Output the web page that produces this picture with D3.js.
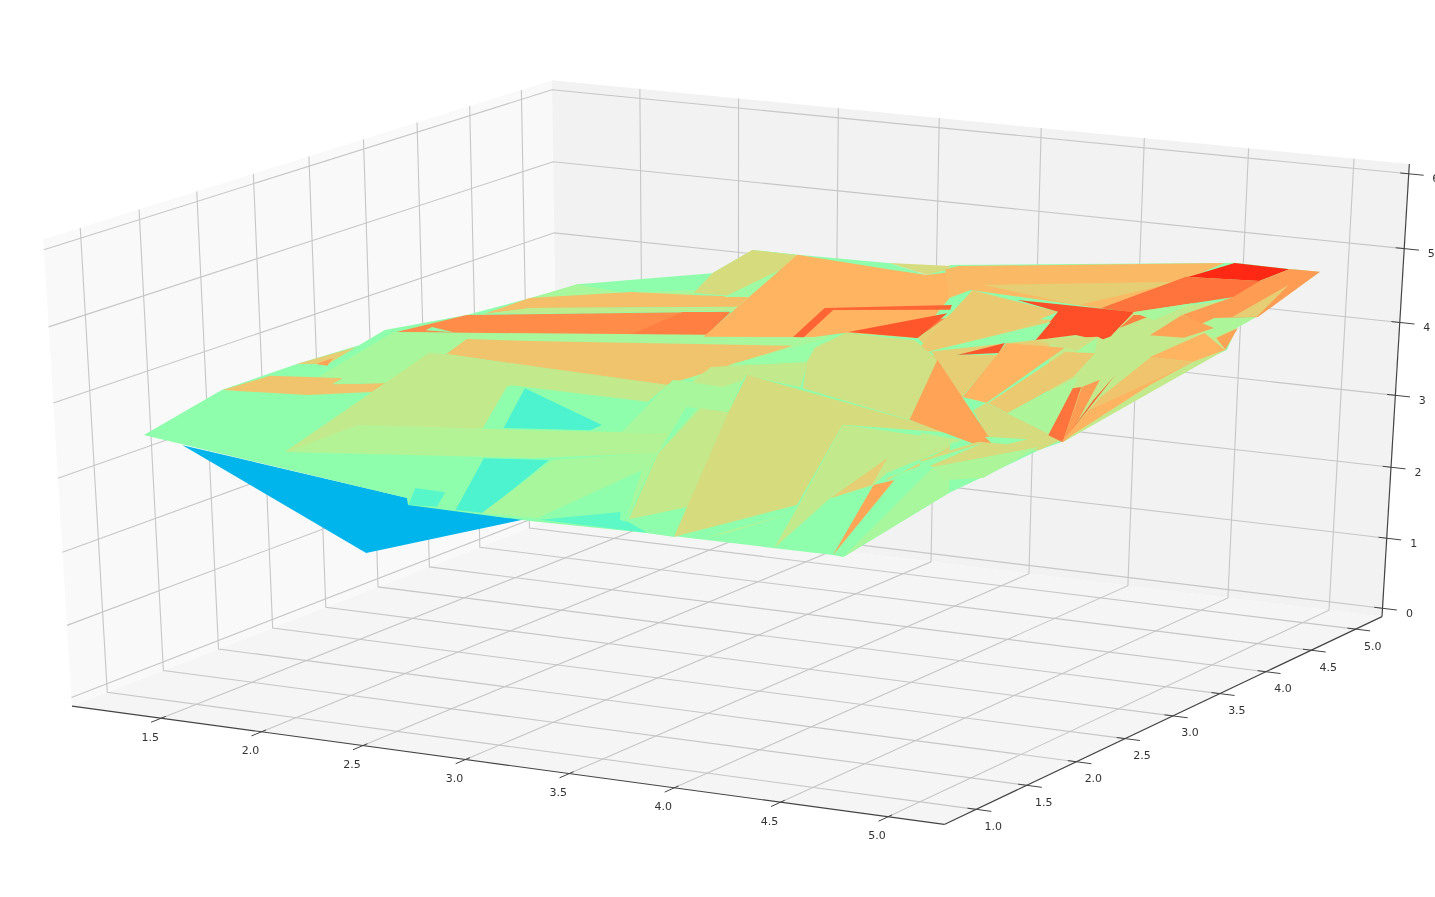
<!DOCTYPE html><html><head><meta charset="utf-8"><script src="https://cdn.jsdelivr.net/npm/d3@7"></script>
<style>html,body{margin:0;background:#fff;overflow:hidden}</style></head><body><svg id="c" width="1435" height="897"></svg>
<script>
const xlim=[1.05,5.26],ylim=[.69,5.30],zlim=[-.12,6.13];
const xTicks=[1.5,2,2.5,3,3.5,4,4.5,5],yTicks=[1,1.5,2,2.5,3,3.5,4,4.5,5],zTicks=[0,1,2,3,4,5,6];
const colorDomain=[1.4,5.4];
const facetZ=[2.4,3.52,4.28,4.2,4.52,3.18,4.66,4.74,3.52,3.72,4.28,3.92,3.52,3,3.8,3,3.08,3.72,3.52,3.12,3.72,4.32,3.88,4.08,3.64,4.08,4.4,4.88,4.88,4.76,4.96,4.36,4.2,4.2,3.92,4.24,5.2,4.8,4.56,4.2,3.76,4.52,5,4.72,3.56,4.96,3.72,3.52,3.94,3.52,3.92,3.6,4.08,4.02,3.92,3.8,4.2,4.504,4.12,3.56,3.72,4.2,4.4,4.24,3.76,4.08,4.52,3.56,3.88,4.08,3.76,3.56,4.8,4.56,4.88,4.4,4.28,4.4,3.92,3.92,4.52,3.72,4.04,3.72];
const facetX=[[0.69,2.47,2.74,2.09],
[1.33,1.14,1.14,1.17,1.10,1.25,1.33,1.34,1.75,1.65,1.90,2.35,2.62,2.61,3.66,3.72,4.00,4.15,4.34,4.37,4.54,4.57,4.76,4.75,4.80,4.97,4.91,4.08,3.57,2.98,2.91],
[1.76,1.78,2.07,2.10,2.28,2.32,2.12],[1.69,1.73,1.81,1.76],[2.02,2.02,2.08],[1.22,1.18,1.28,1.33],[2.09,2.17,3.11,3.27,2.60],[3.04,3.00,3.18,3.33],[1.26,1.25,1.39],
[1.52,1.32,3.10,2.98,1.76,1.88,1.84,1.65,1.63],[2.20,2.12,2.38,3.40,3.32,2.63],[2.33,1.84,1.91,3.06,3.15,2.48,2.81],[2.17,2.89,3.06,2.52],[1.86,2.53,2.54,2.19],[2.24,2.23,2.91,3.44,3.59,3.18],[2.42,2.68,2.95,2.82],[2.52,2.67,2.78,2.66],[3.46,3.22,3.53,4.03,3.71],[3.56,3.49,3.89],[3.30,3.52,3.59,3.75,3.80],[1.50,1.78,2.02,2.08,1.47],[1.95,1.95,2.27,2.54,2.77,2.83,2.06],[1.62,1.71,2.50,2.52,1.77],[2.33,2.19,2.09,2.33,2.59],[2.15,2.07,2.25],[2.77,3.04,3.06,3.04],
[3.07,2.57,3.09,3.28,3.34,3.60,3.87,3.56,3.48],[3.76,3.59,3.63,3.80],[3.59,4.03,4.07,3.64],[3.97,4.13,4.05],[3.97,4.15,4.28],[3.26,3.28,4.27,4.28,4.24,3.57,3.57],[3.45,4.17,4.01],[3.73,3.62,4.05,4.37,4.11,4.04,4.02],[3.87,4.09,4.40,4.80,5.03,4.91],[3.86,3.49,4.03,4.04,3.93],[4.86,4.90,5.16,5.16],[4.55,4.57,4.89,4.94,4.71],[4.72,4.72,4.86,5.05,4.92,4.75,4.77],[4.71,4.62,4.80],[4.36,4.35,4.50,4.53,4.54,4.46],[5.06,5.05,5.20],[4.75,4.57,4.31,4.85,4.98,5.03,4.95,4.92,4.85],[4.75,4.68,4.75],[3.44,3.62,3.74],[4.58,4.64,4.71],[3.20,2.88,2.97,3.14,3.40,3.26,3.53,3.38],[3.39,3.05,3.10],[3.42,3.56,4.50,4.19,3.69],[3.89,3.99,4.21,4.08],[3.12,3.04,3.35,3.57,3.25,3.29,3.28],[2.85,2.97,3.02,3.12],[3.37,4.39,4.65,4.19,4.74,4.59,3.66],[3.28,3.61,3.89,4.35,3.66,3.42,3.31],[4.64,4.08,4.60,4.67,4.67,4.73,4.69,4.92],[4.51,4.61,4.55],[4.88,4.73,4.91],[5.56,5.15,5.12],[4.87,4.80,4.87,4.85],[4.48,4.50,4.52,4.54],[5.10,4.65,4.67,4.93],[3.95,4.19,4.45,4.01],[4.59,4.25,4.51,4.73],[4.63,4.44,4.56,4.70,4.79],[4.46,4.39,4.47,4.81],[4.53,4.51,5.11,5.12,4.98,4.82],[4.24,5.12,5.27,4.69],[4.46,4.64,4.59],[4.41,4.62,4.59],[4.78,4.83,5.10,4.89],[4.68,4.88,4.95,4.83],[4.52,4.51,4.45],[5.50,5.18,5.20,5.61],[5.45,5.04,5.04,5.43],[5.63,5.27,5.41],[5.34,5.16,5.11,5.16],[5.01,4.83,5.03,5.08],[4.91,4.89,5.12,5.11],[4.57,4.33,4.55,4.61,4.57],[4.24,4.25,4.43],[4.79,4.72,4.96,4.94],[3.95,4.10,4.11],[4.07,4.28,4.38,4.27],[4.12,4.06,4.20]];
const facetY=[[2.39,0.83,1.82,1.91],
[0.96,1.98,2.66,3.18,3.55,4.05,4.71,4.97,5.53,6.15,6.15,6.18,6.00,6.28,6.97,7.01,7.00,7.00,5.85,5.56,5.07,4.17,2.85,2.65,1.65,0.30,0.31,0.30,0.26,0.28,0.40],
[0.91,1.28,1.40,1.26,1.40,1.20,1.00],[1.68,2.14,1.73,1.72],[1.26,1.41,1.25],[2.86,3.13,3.13,2.92],[1.85,2.34,2.99,2.43,2.10],[2.21,2.76,2.86,2.31],[3.64,3.72,3.66],
[2.17,3.23,4.19,2.96,2.88,2.00,2.20,2.06,2.20],[2.09,2.43,2.53,3.02,1.97,2.04],[0.41,2.60,2.61,2.50,2.13,2.15,1.28],[2.70,2.65,2.07,1.80],[3.45,2.90,2.77,2.62],[0.58,1.23,1.51,1.76,1.36,1.00],[2.00,2.11,1.00,0.99],[1.19,1.18,0.90,0.87],[0.03,1.12,1.48,0.21,0.06],[0.33,1.41,0.48],[0.84,1.15,1.01,0.94,0.84],[4.66,4.58,4.81,4.70,4.25],[2.91,3.34,3.70,3.78,3.86,3.63,3.14],[3.61,3.80,4.30,4.21,3.68],[4.19,4.66,5.26,5.25,4.23],[4.85,5.63,4.91],[5.29,5.37,5.27,5.12],
[2.82,4.75,4.64,4.61,4.73,4.17,3.27,3.22,3.06],[2.29,2.94,2.96,2.31],[2.94,3.28,3.18,2.92],[2.86,2.72,3.22],[2.39,2.98,2.42],[4.84,4.94,5.62,5.29,4.36,4.45,4.23],[4.84,5.36,4.62],[3.58,4.13,4.25,3.70,3.67,3.32,3.18],[4.64,5.04,5.61,4.45,2.27,2.37],[3.32,4.64,4.37,3.95,3.25],[3.88,4.28,4.27,3.95],[3.67,4.52,4.60,4.20,3.66],[4.98,5.31,5.32,4.21,3.92,4.09,4.58],[4.72,5.54,4.78],[5.14,5.35,5.47,5.19,4.92,5.01],[3.75,4.00,3.53],[2.57,3.19,3.34,3.35,2.84,2.69,2.77,2.73,2.76],[3.43,3.73,3.77],[4.28,5.20,4.78],[2.17,2.51,2.30],[1.79,2.90,2.91,3.06,2.40,2.42,1.48,1.87],[1.76,2.69,2.70],[2.10,2.08,-0.27,-0.08,1.17],[0.48,0.84,0.29,0.30],[2.61,2.95,3.27,2.75,2.87,2.76,2.58],[3.51,4.43,4.00,3.74],[2.64,2.12,1.97,1.89,0.34,-0.46,1.88],[3.79,3.80,3.45,2.21,2.59,3.12,3.42],[0.56,2.12,2.07,1.93,1.32,1.07,0.75,-0.23],[-0.02,0.60,0.09],[0.36,1.20,0.68],[-1.01,0.39,0.26],[0.91,1.65,1.50,0.95],[1.74,2.30,2.24,2.04],[0.03,1.81,1.94,1.37],[3.26,3.41,2.50,3.18],[2.21,3.37,3.40,2.15],[2.38,3.56,3.61,3.08,2.23],[2.94,3.81,3.60,2.60],[2.45,2.62,2.07,1.84,1.71,1.97],[2.70,1.34,1.08,1.49],[2.72,2.77,2.55],[2.19,2.15,1.81],[1.40,1.86,1.90,1.30],[1.75,2.36,1.66,1.54],[1.95,2.60,2.10],[1.09,2.02,2.06,0.99],[1.34,2.42,2.60,1.45],[0.98,2.24,1.72],[1.57,2.23,3.40,2.85],[2.68,3.59,3.58,2.41],[3.40,4.01,3.71,3.40],[3.36,4.35,4.56,3.69,3.58],[4.33,5.33,4.30],[3.66,4.15,3.95,3.68],[5.35,5.69,5.23],[4.04,4.25,3.91,3.95],[4.37,4.74,4.40]];
function solve(A,b){const n=b.length,M=A.map((r,i)=>[...r,b[i]]);for(let i=0;i<n;i++){let p=i;for(let k=i+1;k<n;k++)if(Math.abs(M[k][i])>Math.abs(M[p][i]))p=k;[M[i],M[p]]=[M[p],M[i]];for(let k=0;k<n;k++)if(k!==i){const f=M[k][i]/M[i][i];for(let j=i;j<=n;j++)M[k][j]-=f*M[i][j];}}return M.map((r,i)=>r[n]/r[i]);}
const sx=d3.scaleLinear().domain(xlim),sy=d3.scaleLinear().domain(ylim),sz=d3.scaleLinear().domain(zlim);
const color=d3.scaleLinear().domain(colorDomain).range([0,1]);
const [x0,x1]=xlim,[y0,y1]=ylim,[z0,z1]=zlim;
// camera calibration: known box points and where they fall on the page
const anchors=[[x0,y0,z0,72.5,706],[1.5,y0,z0,162,718],[2,y0,z0,262,732],[2.5,y0,z0,363,745],[3,y0,z0,465,759],[3.5,y0,z0,569,773],[4,y0,z0,674,787],[4.5,y0,z0,781,802],[5,y0,z0,888,816],[x1,y0,z0,944,824],
[x1,1,z0,976,810],[x1,1.5,z0,1026,786],[x1,2,z0,1076,763],[x1,2.5,z0,1125,740],[x1,3,z0,1173,717],[x1,3.5,z0,1221,694],[x1,4,z0,1267,672],[x1,4.5,z0,1312,650],[x1,5,z0,1356,629],[x1,y1,z0,1382,617],
[x1,y1,0,1382,609],[x1,y1,1,1387,538],[x1,y1,2,1391,468],[x1,y1,3,1395,396],[x1,y1,4,1399,323],[x1,y1,5,1404,249],[x1,y1,6,1409,174],[x1,y1,z1,1410,164],
[x0,y0,6,44,249],[x0,y0,5,49,327],[x0,y0,4,53,403],[x0,y0,3,58,478],[x0,y0,2,63,552],[x0,y0,1,68,625],[x0,y0,0,72,697],[x0,y0,z1,43,239],
[x0,y1,6,552,89],[x0,y1,5,553,162],[x0,y1,4,554,233],[x0,y1,z1,552,81],
[x0,1,z0,106,693],[x0,1.5,z0,162,672],[x0,2,z0,218,650],[x0,4.5,z0,480,548],[x0,5,z0,530,528],[1.5,y1,6,640,98],[5,y1,z0,1328,604]];
const Rw=[],Rb=[];anchors.forEach(([x,y,z,u,v])=>{const s=sx(x),t=sy(y),w=sz(z);u/=1000;v/=1000;Rw.push([s,t,w,1,0,0,0,0,-u*s,-u*t,-u*w]);Rb.push(u);Rw.push([0,0,0,0,s,t,w,1,-v*s,-v*t,-v*w]);Rb.push(v);});
const I=d3.range(11);const p=solve(I.map(i=>I.map(j=>d3.sum(Rw,r=>r[i]*r[j]))),I.map(i=>d3.sum(Rw,(r,k)=>r[i]*Rb[k])));
const P=(x,y,z)=>{const s=sx(x),t=sy(y),w=sz(z),d=p[8]*s+p[9]*t+p[10]*w+1;return[1000*(p[0]*s+p[1]*t+p[2]*w+p[3])/d,1000*(p[4]*s+p[5]*t+p[6]*w+p[7])/d];};
const rainbow=t=>d3.rgb(255*Math.min(1,Math.abs(2*t-.5)),255*Math.sin(Math.PI*t),255*Math.cos(Math.PI*t/2))+"";
const svg=d3.select("#c").style("filter","blur(0.45px)");
const line=d3.line();
const poly=(pts,f)=>svg.append("path").attr("d",line(pts.map(q=>P(...q)))+"Z").attr("fill",f);
poly([[x0,y0,z0],[x0,y1,z0],[x0,y1,z1],[x0,y0,z1]],"#f9f9f9");
poly([[x0,y1,z0],[x1,y1,z0],[x1,y1,z1],[x0,y1,z1]],"#f2f2f2");
poly([[x0,y0,z0],[x1,y0,z0],[x1,y1,z0],[x0,y1,z0]],"#f5f5f5");
const seg=(pts,col,w)=>svg.append("path").attr("d",line(pts.map(q=>P(...q)))).attr("fill","none").attr("stroke",col).attr("stroke-width",w);
const G="#c6c6c6";
xTicks.forEach(x=>seg([[x,y0,z0],[x,y1,z0],[x,y1,z1]],G,1.1));
yTicks.forEach(y=>seg([[x1,y,z0],[x0,y,z0],[x0,y,z1]],G,1.1));
zTicks.forEach(z=>seg([[x0,y0,z],[x0,y1,z],[x1,y1,z]],G,1.1));
facetZ.forEach((z,i)=>poly(facetX[i].map((x,k)=>[x,facetY[i][k],z]),rainbow(color(z))));
const K="#444";
seg([[x0,y0,z0],[x1,y0,z0]],K,1.2);seg([[x1,y0,z0],[x1,y1,z0]],K,1.2);seg([[x1,y1,z0],[x1,y1,z1]],K,1.2);
const lab=(q,dx,dy,s)=>svg.append("text").attr("x",q[0]+dx).attr("y",q[1]+dy).attr("text-anchor","middle").attr("dominant-baseline","central").attr("font-family","DejaVu Sans").attr("font-size",11).attr("fill","#333").text(s);
xTicks.forEach(x=>{seg([[x,y0-.09,z0],[x,y0+.04,z0]],K,1);lab(P(x,y0,z0),-11,19,x.toFixed(1));});
yTicks.forEach(y=>{seg([[x1-.04,y,z0],[x1+.07,y,z0]],K,1);lab(P(x1,y,z0),17,17,y.toFixed(1));});
zTicks.forEach(z=>{seg([[x1-.04,y1,z],[x1+.07,y1,z]],K,1);lab(P(x1,y1,z),27,5,String(z));});
</script></body></html>
